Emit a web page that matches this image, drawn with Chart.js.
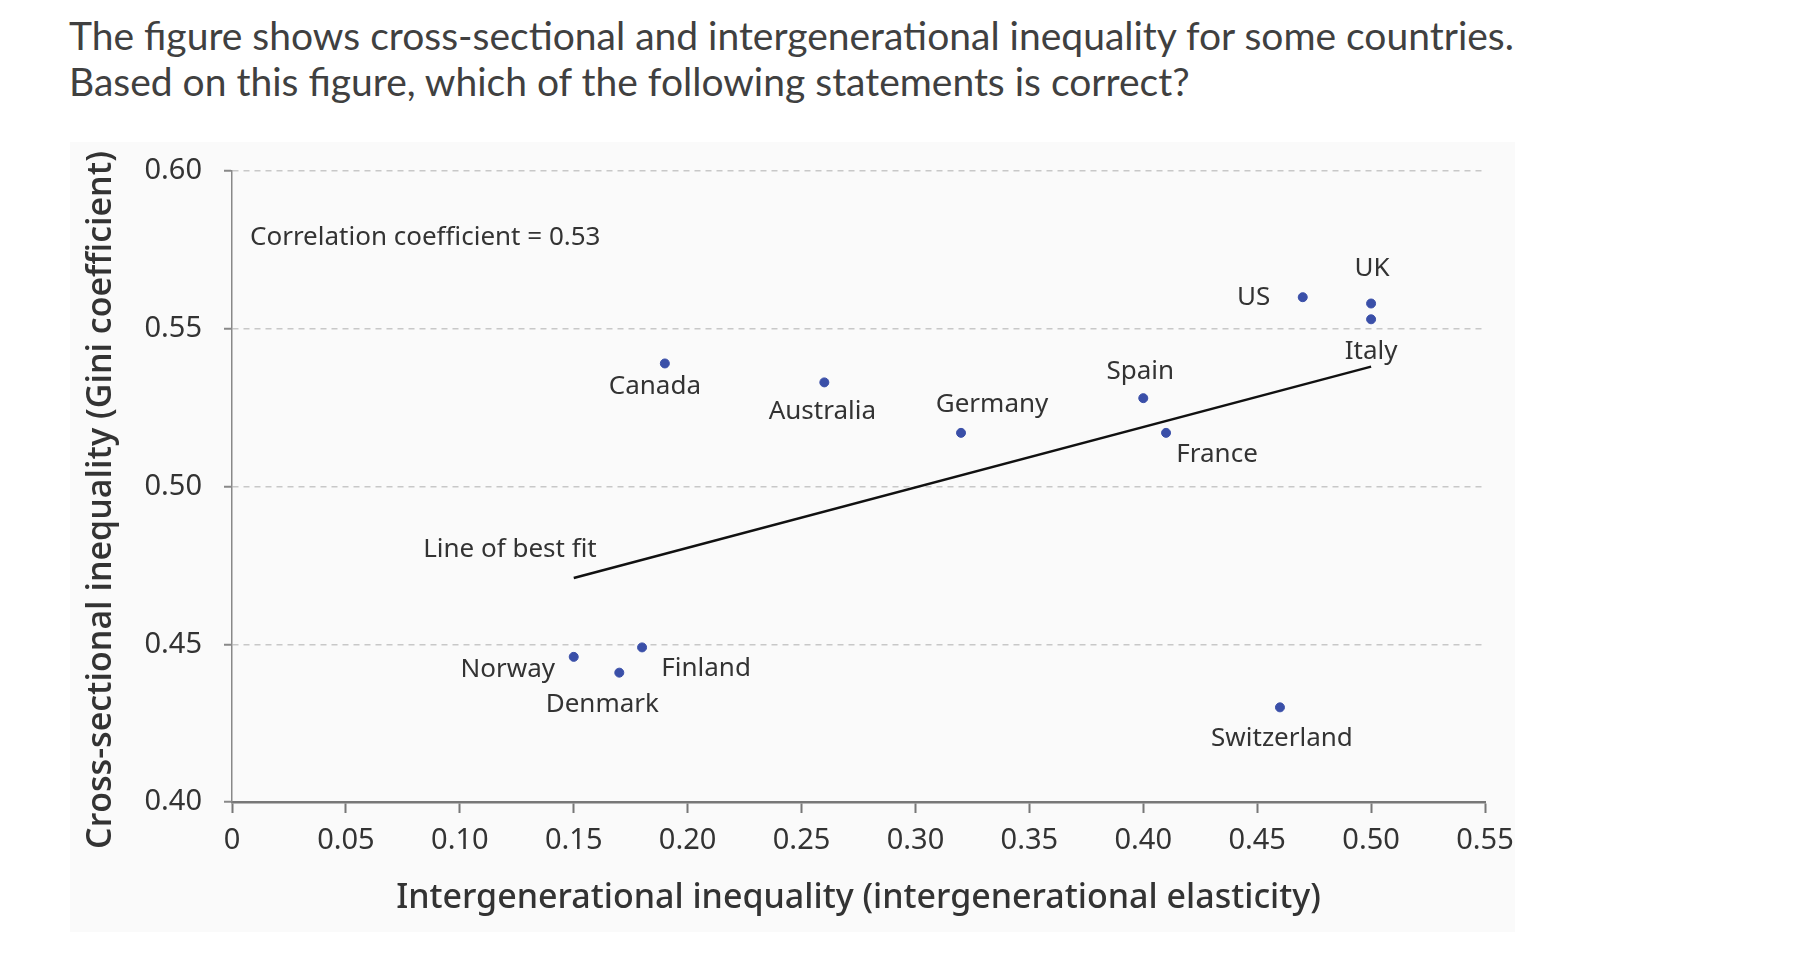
<!DOCTYPE html>
<html>
<head>
<meta charset="utf-8">
<script src="https://cdn.jsdelivr.net/npm/chart.js@4.4.0/dist/chart.umd.min.js"></script>
<style>
  body { margin: 0; background: #fff; }
  #question {
    position: absolute; left: 69px; top: 12px;
    font-family: Lato, sans-serif; font-size: 39px; line-height: 46px;
    color: #404040;
  }
  #panel {
    position: absolute; left: 70px; top: 142px;
    width: 1445px; height: 790px; background: #fafafa;
  }
</style>
</head>
<body>
<div id="question">The figure shows cross-sectional and intergenerational inequality for some countries.<br>Based on this figure, which of the following statements is correct?</div>
<div id="panel"><canvas id="chart"></canvas></div>
<script>
// data
var countries = ['Canada', 'Australia', 'Germany', 'Spain', 'France', 'US', 'UK', 'Italy', 'Norway', 'Denmark', 'Finland', 'Switzerland'];
var elasticity = [0.19, 0.26, 0.32, 0.40, 0.41, 0.47, 0.50, 0.50, 0.15, 0.17, 0.18, 0.46];
var gini = [0.539, 0.533, 0.517, 0.528, 0.517, 0.560, 0.558, 0.553, 0.446, 0.441, 0.449, 0.430];
var fitX = [0.15, 0.50];
var fitY = [0.471, 0.538];
var xTickValues = [0, 0.05, 0.10, 0.15, 0.20, 0.25, 0.30, 0.35, 0.40, 0.45, 0.50, 0.55];
var yTickValues = [0.40, 0.45, 0.50, 0.55, 0.60];

// where each country name sits relative to its dot (px)
var labelOffsets = [[-10, 23], [-2, 29], [31, -28], [-3, -27], [51, 22], [-49, 0], [1, -35], [0, 32], [-66, 13], [-17, 32], [64, 21], [2, 31]];

var labelFont = '26px "Noto Sans", sans-serif';
var textColor = '#333';
var yTitle = 'Cross-sectional inequality (Gini coefficient)';

var pointLabels = {
    id: 'pointLabels',
    afterDatasetsDraw: function (chart) {
        var ctx = chart.ctx;
        var xs = chart.scales.x, ys = chart.scales.y;
        ctx.save();
        ctx.font = labelFont;
        ctx.fillStyle = textColor;
        ctx.textAlign = 'center';
        ctx.textBaseline = 'middle';
        countries.forEach(function (name, i) {
            var px = xs.getPixelForValue(elasticity[i]) + labelOffsets[i][0];
            var py = ys.getPixelForValue(gini[i]) + labelOffsets[i][1];
            ctx.fillText(name, px, py);
        });
        // annotations
        ctx.textAlign = 'left';
        ctx.fillText('Correlation coefficient = 0.53', xs.left + 18, ys.getPixelForValue(0.579));
        ctx.textAlign = 'right';
        ctx.fillText('Line of best fit', xs.getPixelForValue(fitX[0]) + 23, ys.getPixelForValue(fitY[0]) - 28);

        // y axis title, centred a bit below the plot middle like the original
        ctx.translate(31, 358);
        ctx.rotate(-Math.PI / 2);
        ctx.textAlign = 'center';
        ctx.font = '600 34px "Open Sans", sans-serif';
        ctx.fillText(yTitle, 0, 0);
        ctx.restore();
    }
};

var ctx = document.getElementById('chart');
var chart = new Chart(ctx, {
    type: 'scatter',
    data: {
        datasets: [{
            label: 'Countries',
            data: countries.map(function (c, i) { return { x: elasticity[i], y: gini[i] }; }),
            backgroundColor: '#3a4fa8',
            borderColor: '#3a4fa8',
            pointRadius: 4.5,
            pointHoverRadius: 4.5
        },
        {
            label: 'Line of best fit',
            type: 'line',
            data: fitX.map(function (v, i) { return { x: v, y: fitY[i] }; }),
            borderColor: '#111',
            borderWidth: 2.5,
            pointRadius: 0,
            fill: false
        }]
    },
    options: {
        responsive: true,
        maintainAspectRatio: false,
        animation: false,
        layout: { padding: { left: 0, top: 29, right: 30, bottom: 0 } },
        plugins: {
            legend: { display: false },
            tooltip: { enabled: false }
        },
        scales: {
            x: {
                type: 'linear',
                min: 0, max: 0.55,
                afterBuildTicks: function (scale) {
                    scale.ticks = xTickValues.map(function (v) { return { value: v }; });
                },
                afterFit: function (scale) {
                    scale.height = 130;
                    scale.paddingLeft = 0;
                    scale.paddingRight = 0;
                },
                ticks: {
                    padding: 10,
                    color: textColor,
                    font: { family: 'Noto Sans', size: 29 },
                    callback: function (v) { return v === 0 ? '0' : v.toFixed(2); }
                },
                grid: {
                    drawOnChartArea: false,
                    drawTicks: true,
                    tickLength: 11,
                    tickColor: '#777',
                    tickWidth: 2
                },
                border: { color: '#777', width: 2.5 },
                title: {
                    display: true,
                    text: 'Intergenerational inequality (intergenerational elasticity)',
                    color: textColor,
                    font: { family: 'Noto Sans', size: 34, weight: '500' },
                    padding: { top: 0, bottom: 13 }
                }
            },
            y: {
                type: 'linear',
                min: 0.40, max: 0.60,
                afterBuildTicks: function (scale) {
                    scale.ticks = yTickValues.map(function (v) { return { value: v }; });
                },
                afterFit: function (scale) {
                    scale.width = 162;
                    scale.paddingTop = 0;
                    scale.paddingBottom = 0;
                },
                ticks: {
                    padding: 22,
                    color: textColor,
                    font: { family: 'Noto Sans', size: 29 },
                    callback: function (v) { return v.toFixed(2); }
                },
                grid: {
                    color: '#c8c8c8',
                    lineWidth: 1.5,
                    tickLength: 8,
                    tickColor: '#888',
                    tickWidth: 2
                },
                border: { color: '#888', width: 1.5, dash: [6, 5] },
                title: { display: false }
            }
        }
    },
    plugins: [pointLabels]
});
</script>
</body>
</html>
